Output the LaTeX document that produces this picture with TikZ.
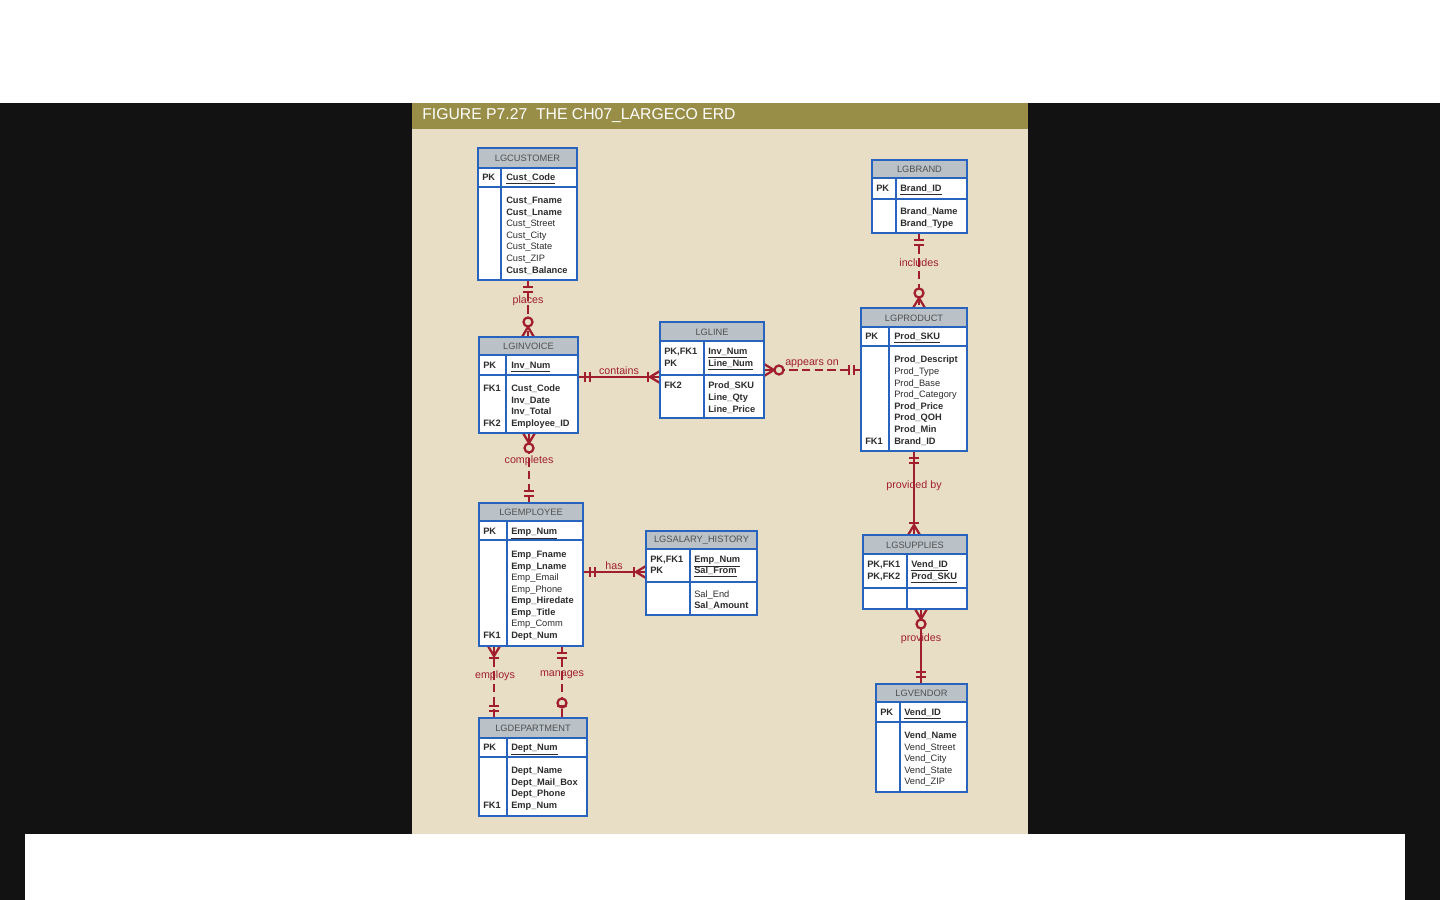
\documentclass[tikz,border=0pt]{standalone}
\usepackage{fontspec}
\setmainfont{Liberation Sans}
\definecolor{beige}{RGB}{232,222,198}
\definecolor{olive}{RGB}{152,142,72}
\definecolor{hdr}{RGB}{186,194,200}
\definecolor{tblue}{RGB}{40,100,190}
\definecolor{relred}{RGB}{160,30,45}
\definecolor{txt}{RGB}{45,45,45}
\definecolor{lgt}{RGB}{80,80,80}
\tikzset{
 tbl/.style={draw=tblue,line width=1.1pt},
 ttl/.style={font=\fontsize{6.6}{8}\selectfont,text=lgt,inner sep=0},
 att/.style={font=\fontsize{6.6}{8}\selectfont,text=txt,anchor=base west,yshift=-0.85mm,inner sep=0},
 relline/.style={draw=relred,line width=1.6pt},
 reldash/.style={relline,dash pattern=on 6pt off 3pt},
 rellab/.style={font=\fontsize{7.6}{9}\selectfont,text=relred,inner sep=0},
}
\newcommand\ent[9]{% name x1 x2 xs ytop yh ypk ybot title
 \fill[hdr] (#2,#5) rectangle (#3,#6);
 \fill[white] (#2,#6) rectangle (#3,#8);
 \draw[tbl] (#2,#5) rectangle (#3,#8);
 \draw[tbl] (#2,#6)--(#3,#6) (#2,#7)--(#3,#7) (#4,#6)--(#4,#8);
 \node[ttl] (#1) at ({(#2+#3)/2},{(#5+#6)/2+0.5}) {#9};
 \coordinate (#1-n) at ({(#2+#3)/2},#5);
}
\newcommand\mand[2]{\begin{scope}[shift={#1},rotate=#2]\draw[relline] (7,-5)--(7,5) (12,-5)--(12,5);\end{scope}}
\newcommand\onebar[2]{\begin{scope}[shift={#1},rotate=#2]\draw[relline] (12,-5)--(12,5);\end{scope}}
\newcommand\crow[2]{\begin{scope}[shift={#1},rotate=#2]\draw[relline] (0,-6)--(10,0)--(0,6);\end{scope}}
\newcommand\optc[2]{\begin{scope}[shift={#1},rotate=#2]\draw[relline,fill=beige] (15,0) circle (4.5);\end{scope}}
\begin{document}
\begin{tikzpicture}[x=0.25mm,y=-0.25mm]
\useasboundingbox (0,0) rectangle (1440,900);
\fill[white] (0,0) rectangle (1440,900);
\fill[black!93] (0,103) rectangle (1440,900);
\fill[white] (25,834) rectangle (1405,900);
\fill[beige] (412,103) rectangle (1028,834);
\fill[olive] (412,103) rectangle (1028,129);
\node[anchor=west,text=white,font=\fontsize{11.2}{13}\selectfont,inner sep=0] (fig) at (422,116) {FIGURE P7.27\ \ THE CH07\_LARGECO ERD};

% ---------- relationships (drawn first) ----------
\coordinate (cu-b) at (528,280); \coordinate (in-t) at (528,337);
\draw[reldash] (cu-b)--(in-t);
\mand{(cu-b)}{-90}\crow{(in-t)}{90}\optc{(in-t)}{90}
\node[rellab] (lplaces) at (528,301) {places};

\coordinate (in-b) at (529,433); \coordinate (em-t) at (529,503);
\draw[reldash] (in-b)--(em-t);
\crow{(in-b)}{-90}\optc{(in-b)}{-90}\mand{(em-t)}{90}
\node[rellab] (lcompl) at (529,461) {completes};

\coordinate (in-r) at (578,377); \coordinate (li-l) at (660,377);
\draw[relline] (in-r)--(li-l);
\mand{(in-r)}{0}\crow{(li-l)}{180}\onebar{(li-l)}{180}
\node[rellab] (lcont) at (619,371) {contains};

\coordinate (li-r) at (764,370); \coordinate (pr-l) at (861,370);
\draw[reldash] (li-r)--(pr-l);
\crow{(li-r)}{0}\optc{(li-r)}{0}\mand{(pr-l)}{180}
\node[rellab] (lapp) at (812,364) {appears on};

\coordinate (br-b) at (919,233); \coordinate (pr-t) at (919,308);
\draw[reldash] (br-b)--(pr-t);
\mand{(br-b)}{-90}\crow{(pr-t)}{90}\optc{(pr-t)}{90}
\node[rellab] (lincl) at (919,263) {includes};

\coordinate (pr-b) at (914,451); \coordinate (su-t) at (914,535);
\draw[relline] (pr-b)--(su-t);
\mand{(pr-b)}{-90}\crow{(su-t)}{90}\onebar{(su-t)}{90}
\node[rellab] (lprov) at (914,486) {provided by};

\coordinate (su-b) at (921,609); \coordinate (ve-t) at (921,684);
\draw[relline] (su-b)--(ve-t);
\crow{(su-b)}{-90}\optc{(su-b)}{-90}\mand{(ve-t)}{90}
\node[rellab] (lprovs) at (921,639) {provides};

\coordinate (em-r) at (583,572); \coordinate (sa-l) at (646,572);
\draw[relline] (em-r)--(sa-l);
\mand{(em-r)}{0}\crow{(sa-l)}{180}\onebar{(sa-l)}{180}
\node[rellab] (lhas) at (614,566) {has};

\coordinate (em-b1) at (494,646); \coordinate (de-t1) at (494,718);
\draw[reldash] (em-b1)--(de-t1);
\crow{(em-b1)}{-90}\onebar{(em-b1)}{-90}\mand{(de-t1)}{90}
\node[rellab] (lemp) at (495,676) {employs};

\coordinate (em-b2) at (562,646); \coordinate (de-t2) at (562,718);
\draw[reldash] (em-b2)--(de-t2);
\mand{(em-b2)}{-90}\optc{(de-t2)}{90}\onebar{(de-t2)}{90}
\node[rellab] (lman) at (562,675) {manages};

% ---------- entities ----------
\ent{cust}{478}{577}{501}{148}{168}{187}{280}{LGCUSTOMER}
\node[att] at (482,177) {\textbf{PK}};
\node[att] at (506,177) {\textbf{\underline{Cust\_Code}}};
\foreach \yy/\t in {200/\textbf{Cust\_Fname},212/\textbf{Cust\_Lname},223/Cust\_Street,235/Cust\_City,246/Cust\_State,258/Cust\_ZIP,270/\textbf{Cust\_Balance}}
 \node[att] at (506,\yy) {\t};

\ent{inv}{479}{578}{506}{337}{355}{375}{433}{LGINVOICE}
\node[att] at (483,365) {\textbf{PK}};
\node[att] at (511,365) {\textbf{\underline{Inv\_Num}}};
\node[att] at (483,388) {\textbf{FK1}};
\node[att] at (483,423) {\textbf{FK2}};
\foreach \yy/\t in {388/Cust\_Code,400/Inv\_Date,411/Inv\_Total,423/Employee\_ID}
 \node[att] at (511,\yy) {\textbf{\t}};

\ent{line}{660}{764}{704}{322}{341}{375}{418}{LGLINE}
\node[att] at (664,351) {\textbf{PK,FK1}};
\node[att] at (664,363) {\textbf{PK}};
\node[att] at (708,351) {\textbf{\underline{Inv\_Num}}};
\node[att] at (708,363) {\textbf{\underline{Line\_Num}}};
\node[att] at (664,385) {\textbf{FK2}};
\foreach \yy/\t in {385/Prod\_SKU,397/Line\_Qty,409/Line\_Price}
 \node[att] at (708,\yy) {\textbf{\t}};

\ent{brand}{872}{967}{896}{160}{178}{199}{233}{LGBRAND}
\node[att] at (876,188) {\textbf{PK}};
\node[att] at (900,188) {\textbf{\underline{Brand\_ID}}};
\node[att] at (900,211) {\textbf{Brand\_Name}};
\node[att] at (900,223) {\textbf{Brand\_Type}};

\ent{prod}{861}{967}{889}{308}{327}{346}{451}{LGPRODUCT}
\node[att] at (865,336) {\textbf{PK}};
\node[att] at (894,336) {\textbf{\underline{Prod\_SKU}}};
\foreach \yy/\t in {359/\textbf{Prod\_Descript},371/Prod\_Type,383/Prod\_Base,394/Prod\_Category,406/\textbf{Prod\_Price},417/\textbf{Prod\_QOH},429/\textbf{Prod\_Min},441/\textbf{Brand\_ID}}
 \node[att] at (894,\yy) {\t};
\node[att] at (865,441) {\textbf{FK1}};

\ent{emp}{479}{583}{507}{503}{521}{540}{646}{LGEMPLOYEE}
\node[att] at (483,531) {\textbf{PK}};
\node[att] at (511,531) {\textbf{\underline{Emp\_Num}}};
\foreach \yy/\t in {554/\textbf{Emp\_Fname},566/\textbf{Emp\_Lname},577/Emp\_Email,589/Emp\_Phone,600/\textbf{Emp\_Hiredate},612/\textbf{Emp\_Title},623/Emp\_Comm,635/\textbf{Dept\_Num}}
 \node[att] at (511,\yy) {\t};
\node[att] at (483,635) {\textbf{FK1}};

\ent{sal}{646}{757}{690}{531}{549}{582}{615}{LGSALARY\_HISTORY}
\node[att] at (650,559) {\textbf{PK,FK1}};
\node[att] at (650,570) {\textbf{PK}};
\node[att] at (694,559) {\textbf{\underline{Emp\_Num}}};
\node[att] at (694,570) {\textbf{\underline{Sal\_From}}};
\node[att] at (694,594) {Sal\_End};
\node[att] at (694,605) {\textbf{Sal\_Amount}};

\ent{dept}{479}{587}{507}{718}{738}{757}{816}{LGDEPARTMENT}
\node[att] at (483,747) {\textbf{PK}};
\node[att] at (511,747) {\textbf{\underline{Dept\_Num}}};
\foreach \yy/\t in {770/Dept\_Name,782/Dept\_Mail\_Box,793/Dept\_Phone,805/Emp\_Num}
 \node[att] at (511,\yy) {\textbf{\t}};
\node[att] at (483,805) {\textbf{FK1}};

\ent{sup}{863}{967}{907}{535}{554}{588}{609}{LGSUPPLIES}
\node[att] at (867,564) {\textbf{PK,FK1}};
\node[att] at (867,576) {\textbf{PK,FK2}};
\node[att] at (911,564) {\textbf{\underline{Vend\_ID}}};
\node[att] at (911,576) {\textbf{\underline{Prod\_SKU}}};

\ent{vend}{876}{967}{900}{684}{702}{722}{792}{LGVENDOR}
\node[att] at (880,712) {\textbf{PK}};
\node[att] at (904,712) {\textbf{\underline{Vend\_ID}}};
\foreach \yy/\t in {735/\textbf{Vend\_Name},747/Vend\_Street,758/Vend\_City,770/Vend\_State,781/Vend\_ZIP}
 \node[att] at (904,\yy) {\t};
\end{tikzpicture}
\end{document}
